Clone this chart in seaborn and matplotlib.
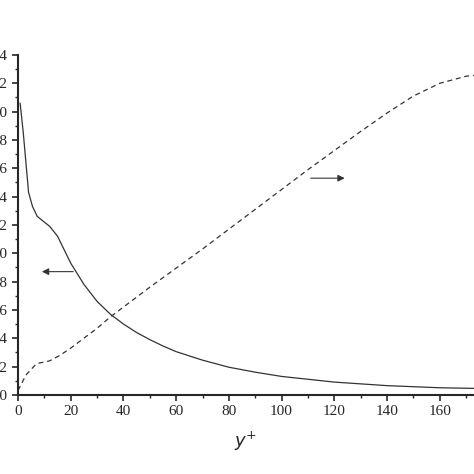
import numpy as np
import pandas as pd
import matplotlib.pyplot as plt
import seaborn as sns

# Data
y_plus_solid = [0.8, 2, 4, 5.5, 7.3, 10, 12, 15, 20, 25, 30, 35, 40, 45, 50, 55, 60, 70, 80, 90, 100, 120, 140, 160, 175]
solid_vals = [2.06, 1.85, 1.43, 1.33, 1.26, 1.22, 1.19, 1.12, 0.93, 0.78, 0.66, 0.57, 0.50, 0.44, 0.39, 0.345, 0.305, 0.245, 0.195, 0.16, 0.13, 0.09, 0.065, 0.05, 0.045]
y_plus_dash = [0, 3, 7, 12, 16, 20, 25, 30, 35, 50, 70, 90, 110, 130, 140, 150, 160, 170, 175]
dash_vals = [0.03, 0.14, 0.22, 0.24, 0.28, 0.33, 0.40, 0.47, 0.55, 0.76, 1.03, 1.31, 1.59, 1.86, 1.99, 2.11, 2.20, 2.25, 2.26]
ytick_vals = [0.0, 0.2, 0.4, 0.6, 0.8, 1.0, 1.2, 1.4, 1.6, 1.8, 2.0, 2.2, 2.4]
xtick_vals = [0, 20, 40, 60, 80, 100, 120, 140, 160]

sns.set_style("ticks")
plt.rcParams['font.family'] = ['Liberation Serif', 'DejaVu Serif']

fig = plt.figure(figsize=(4.74, 4.74), dpi=100)
ax = fig.add_axes([0.038, 0.167, 0.962, 0.717])

df_s = pd.DataFrame({"y": y_plus_solid, "v": solid_vals})
df_d = pd.DataFrame({"y": y_plus_dash, "v": dash_vals})
sns.lineplot(data=df_s, x="y", y="v", ax=ax, color="#333333", lw=0.9)
sns.lineplot(data=df_d, x="y", y="v", ax=ax, color="#333333", lw=0.9, linestyle=(0, (4, 3)))

ax.annotate("", xy=(8, 0.87), xytext=(22, 0.87),
            arrowprops=dict(arrowstyle="-|>", color="#333333", lw=0.8, mutation_scale=10))
ax.annotate("", xy=(125, 1.53), xytext=(110, 1.53),
            arrowprops=dict(arrowstyle="-|>", color="#333333", lw=0.8, mutation_scale=10))

ax.set_xlim(0, 173)
ax.set_ylim(0, 2.4)
ax.set_xticks(xtick_vals)
ax.set_xticks(np.arange(10, 173, 20), minor=True)
ax.set_yticks(ytick_vals)
ax.set_yticklabels([f"{v:.1f}" for v in ytick_vals])
ax.set_yticks(np.arange(0.1, 2.4, 0.2), minor=True)
ax.tick_params(labelsize=11, direction="out", length=4, width=1.2)
ax.tick_params(which="minor", direction="out", length=2.5, width=1)
for s in ["left", "bottom"]:
    ax.spines[s].set_linewidth(1.5)
sns.despine(ax=ax)
ax.set_xlabel("$y^{+}$", fontsize=13, labelpad=8)
ax.set_ylabel("")

fig.savefig("out.png", dpi=100)
